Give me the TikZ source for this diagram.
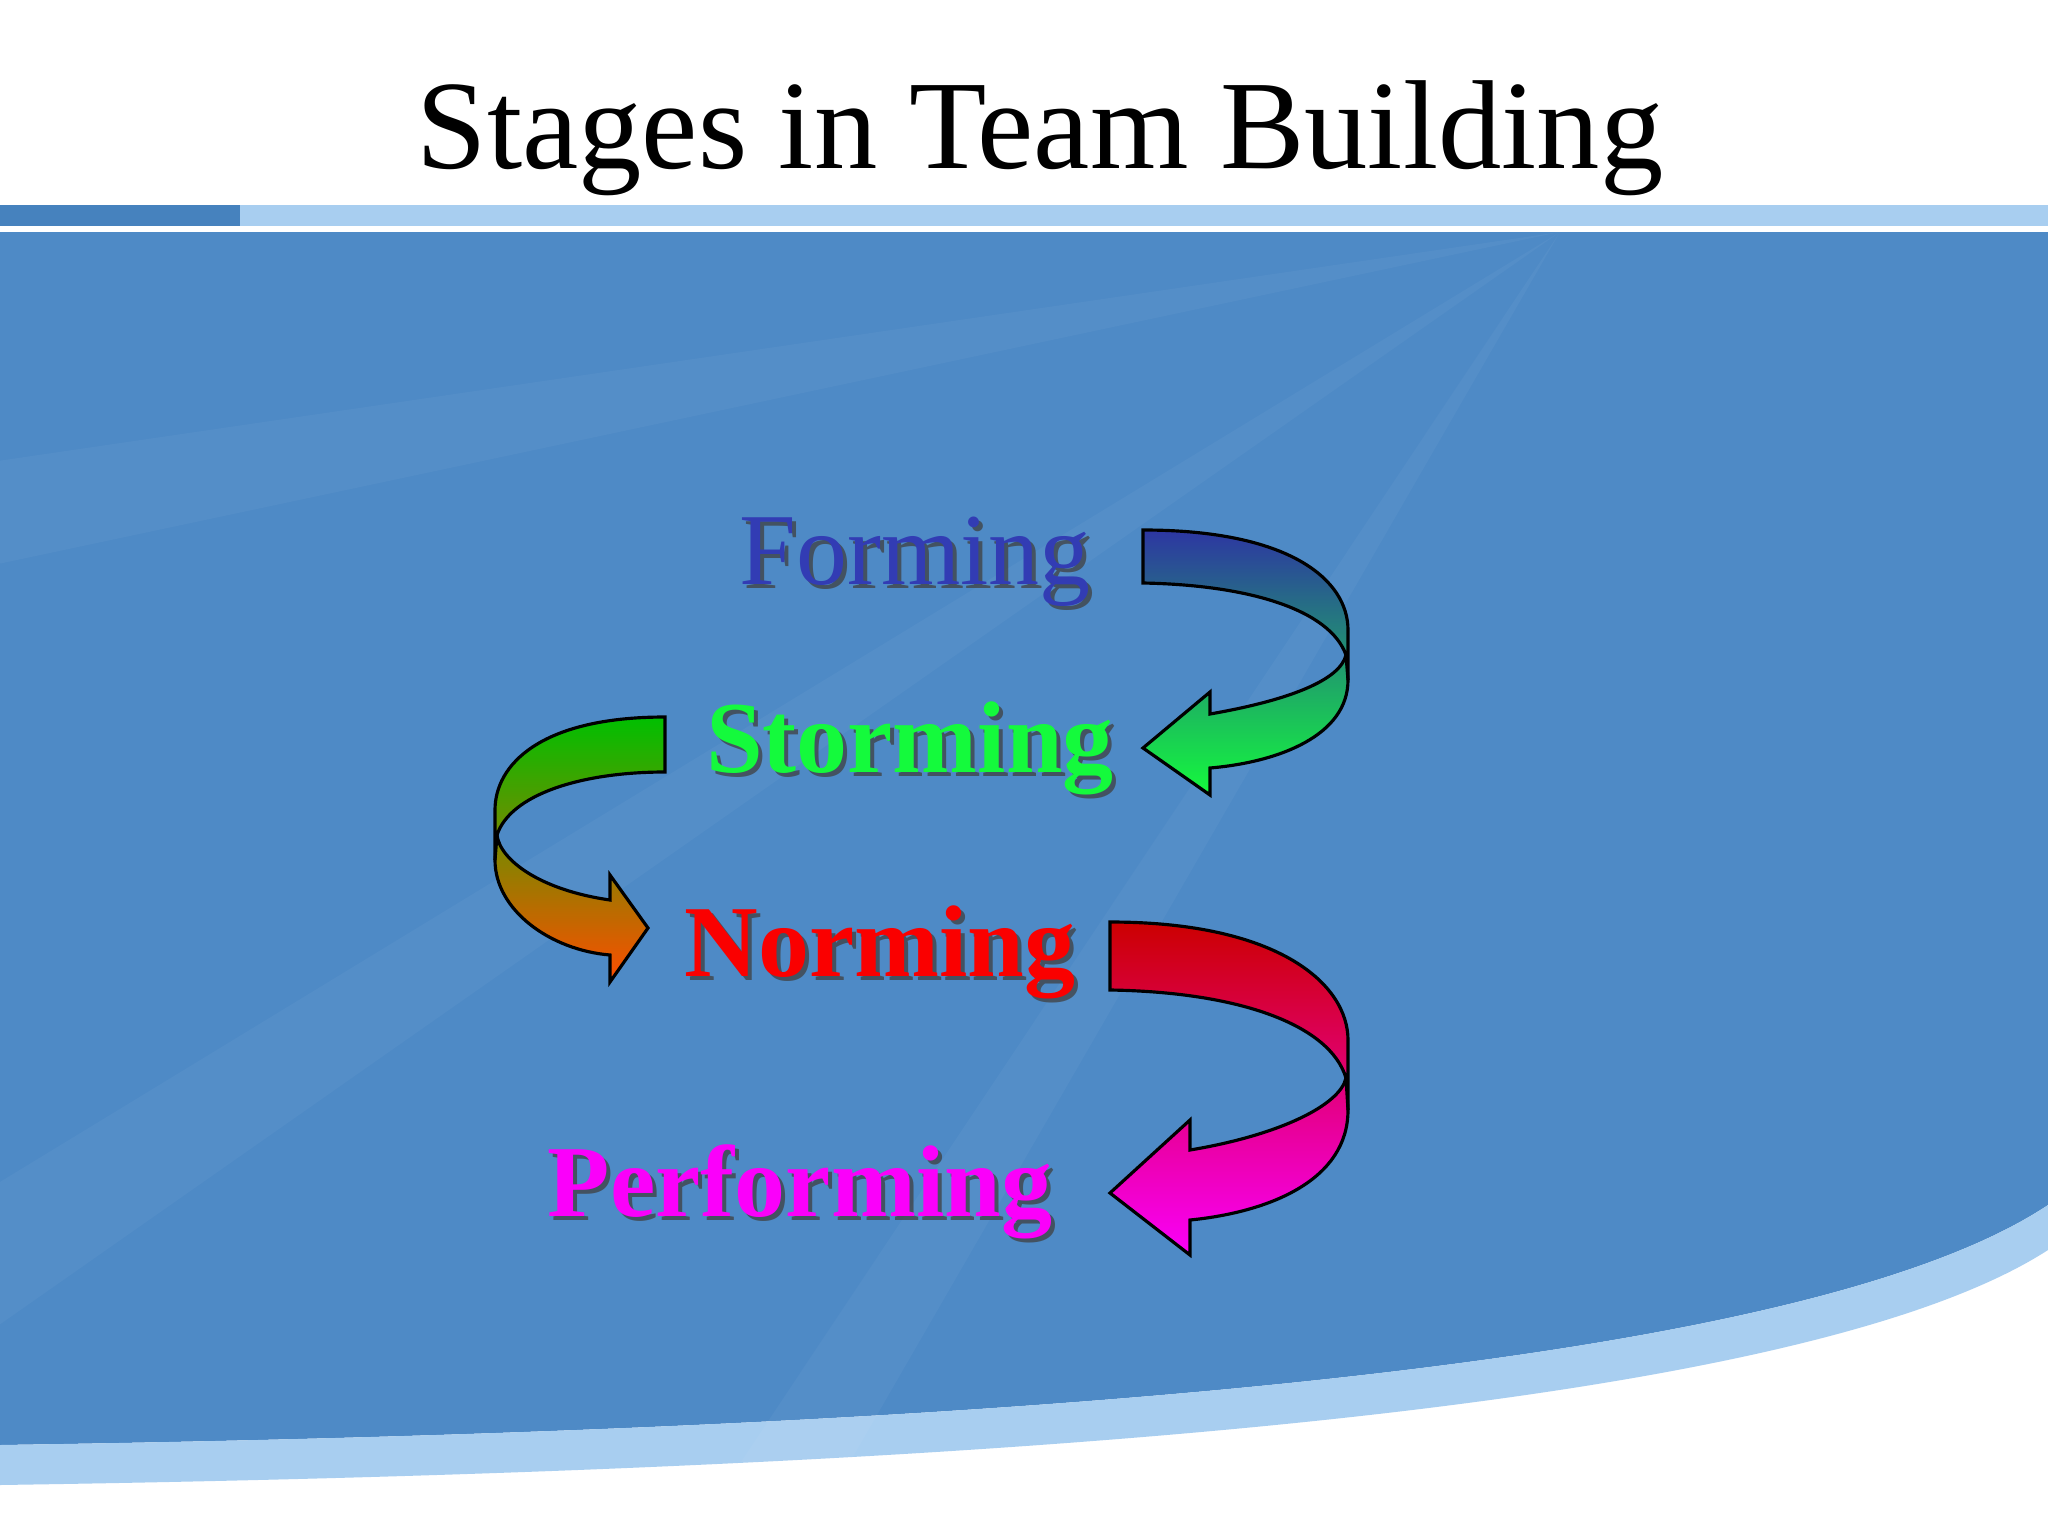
\documentclass[tikz,border=0pt]{standalone}
\usepackage{fontspec}
\setmainfont{Liberation Serif}
\usepackage{tikz}
\definecolor{slideblue}{RGB}{78,138,198}
\definecolor{bandblue}{RGB}{168,206,240}
\definecolor{darkbar}{RGB}{70,130,190}
\definecolor{formblue}{RGB}{50,60,180}
\definecolor{stormgreen}{RGB}{20,250,60}
\definecolor{normred}{RGB}{250,0,0}
\definecolor{perfmag}{RGB}{250,0,250}
\tikzset{
  stagetext/.style={font=\fontsize{29}{32}\selectfont, anchor=center, inner sep=0pt},
  ribbon/.style={draw=black, line width=0.9pt, line join=miter}
}
\newcommand{\stagelabel}[4]{%
  \node[stagetext, text=black!75, opacity=0.75] at ([shift={(4,4)}]#2) {#4};
  \node[stagetext, text=#3] (#1) at (#2) {#4};}
\begin{document}
\begin{tikzpicture}[x=0.01cm, y=-0.01cm]
        % page
        \fill[white] (0,0) rectangle (2048,1536);
        \useasboundingbox (0,0) rectangle (2048,1536);

        % blue slide area
        \fill[slideblue] (0,232) -- (2048,232) -- (2048,1205)
            .. controls (1800,1370) and (1000,1430) .. (0,1445) -- cycle;
        \fill[bandblue] (0,1445) .. controls (1000,1430) and (1800,1370) .. (2048,1205)
            -- (2048,1250) .. controls (1800,1410) and (1000,1470) .. (0,1485) -- cycle;
        % faint rays
        \foreach \a in {-60,-35,-12,20,48} {
          \fill[white, opacity=0.035] (1560,232) -- ++(180+\a:2500) -- ++(180+\a+90:160) -- cycle;
        }

        % title bar
        \fill[darkbar] (0,205) rectangle (240,226);
        \fill[bandblue] (240,205) rectangle (2048,226);
        \fill[white] (0,226) rectangle (2048,232);

        % title
        \node[font=\fontsize{36}{40}\selectfont] (title) at (1040,138) {Stages in Team Building};

        % stage labels
        \stagelabel{forming}{915,562}{formblue}{Forming}
        \stagelabel{storming}{910,748}{stormgreen}{\textbf{Storming}}
        \stagelabel{norming}{880,952}{normred}{\textbf{Norming}}
        \stagelabel{performing}{800,1192}{perfmag}{\textbf{Performing}}

        % arrow forming -> storming
        \draw[ribbon, top color=formblue!90!black, bottom color=stormgreen]
            (1143,530) .. controls (1290,530) and (1348,580) .. (1348,630) -- (1348,680)
            .. controls (1348,735) and (1280,762) .. (1210,768) -- (1210,795) -- (1143,748)
            -- (1210,692) -- (1210,714) .. controls (1290,700) and (1340,680) .. (1346,655)
            .. controls (1330,610) and (1250,585) .. (1143,583) -- cycle;
        \draw[ribbon] (1346,655) -- (1348,680);

        % arrow storming -> norming
        \draw[ribbon, top color=green!75!black, middle color=yellow!85!orange, bottom color=orange!60!red]
            (665,717) .. controls (540,717) and (495,765) .. (495,810) -- (495,860)
            .. controls (495,910) and (550,950) .. (610,955) -- (610,982) -- (648,928)
            -- (610,875) -- (610,900) .. controls (540,890) and (500,860) .. (497,835)
            .. controls (510,795) and (580,772) .. (665,772) -- cycle;
        \draw[ribbon] (497,835) -- (495,860);

        % arrow norming -> performing
        \draw[ribbon, top color=red!80!black, bottom color=perfmag]
            (1110,922) .. controls (1280,922) and (1348,985) .. (1348,1040) -- (1348,1110)
            .. controls (1348,1180) and (1270,1212) .. (1190,1220) -- (1190,1255) -- (1110,1193)
            -- (1190,1120) -- (1190,1150) .. controls (1280,1135) and (1340,1105) .. (1346,1078)
            .. controls (1330,1025) and (1240,992) .. (1110,990) -- cycle;
        \draw[ribbon] (1346,1078) -- (1348,1110);
\end{tikzpicture}
\end{document}
